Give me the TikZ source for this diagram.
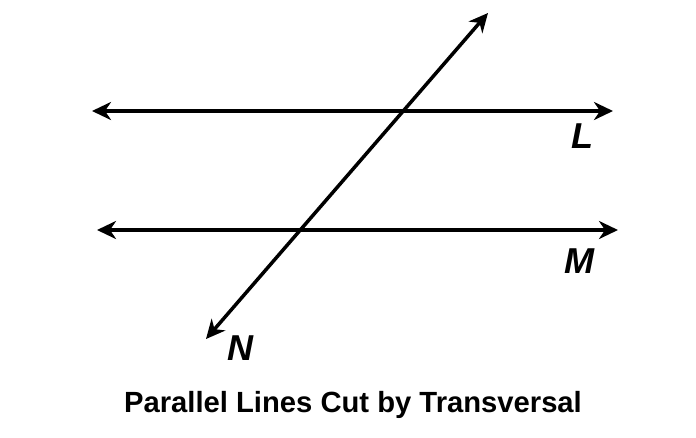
\documentclass[tikz,border=0pt]{standalone}
\usepackage{fontspec}
\setmainfont{Liberation Sans}
\usetikzlibrary{arrows.meta}
\begin{document}
\begin{tikzpicture}[x=1pt,y=-1pt,
  ln/.style={line width=3.5pt,{Stealth[length=19pt,width=18pt,inset=6pt]}-{Stealth[length=19pt,width=18pt,inset=6pt]}},
  lbl/.style={font=\fontsize{36}{36}\selectfont\bfseries\itshape,inner sep=0pt,anchor=base},
  captiontext/.style={font=\fontsize{29.2}{31}\selectfont\bfseries,inner sep=0pt,anchor=base}]
\useasboundingbox (0,0) rectangle (696,437);
\coordinate (La) at (92,111);
\coordinate (Lb) at (613,111);
\coordinate (Ma) at (97,230);
\coordinate (Mb) at (618,230);
\coordinate (Na) at (206,339);
\coordinate (Nb) at (488,13);
\draw[ln] (La) -- (Lb);
\draw[ln] (Ma) -- (Mb);
\draw[ln] (Na) -- (Nb);
\node[lbl] (L) at (582,148) {L};
\node[lbl] (M) at (579,273) {M};
\node[lbl] (N) at (240,360) {N};
\node[captiontext] (C) at (353,412) {Parallel Lines Cut by Transversal};
\end{tikzpicture}
\end{document}
